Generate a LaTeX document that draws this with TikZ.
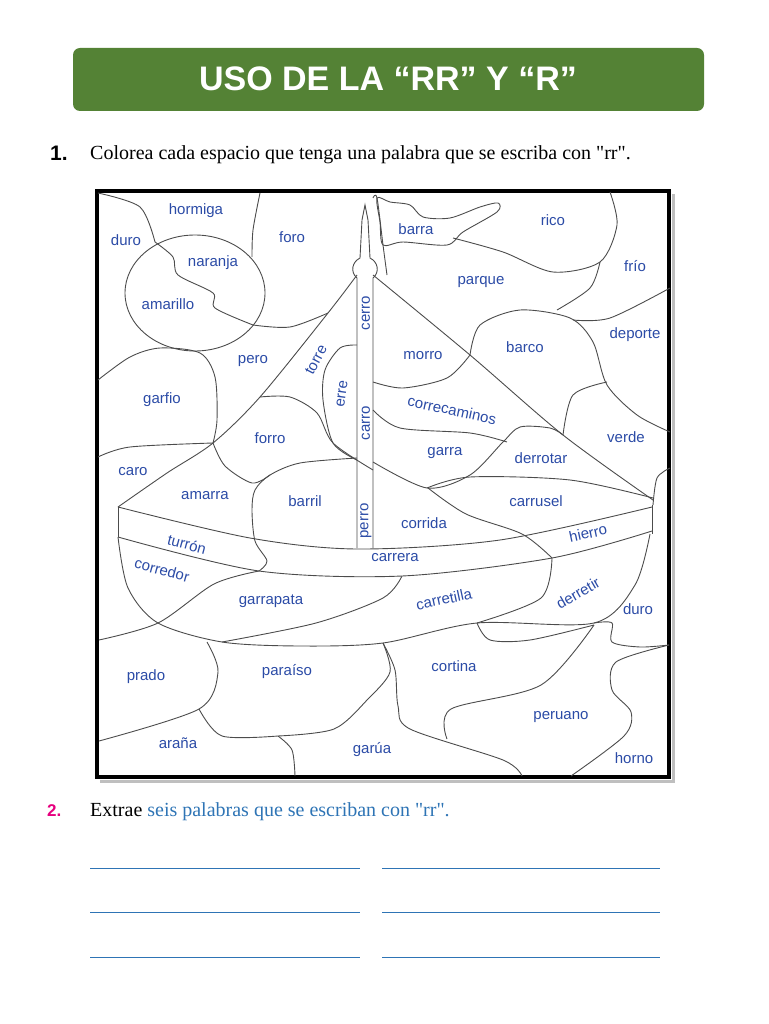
\documentclass[tikz,border=0pt]{standalone}
\usepackage{fontspec}
\setmainfont{Liberation Serif}[Ligatures=TeXOff]
\setsansfont{Liberation Sans}
\definecolor{tgreen}{HTML}{548235}
\definecolor{wblue}{HTML}{2B4BA6}
\definecolor{lblue}{HTML}{2E74B5}
\definecolor{mag}{HTML}{E6007E}
\begin{document}
\begin{tikzpicture}[x=1pt,y=-1pt,
  ln/.style={line width=0.9pt,draw=black!70},
  w/.style={text=wblue,font=\sffamily\fontsize{15}{15}\selectfont,inner sep=0pt}]
\useasboundingbox (0,0) rectangle (768,1024);
% title
\node[fill=tgreen,rounded corners=7pt,minimum width=631pt,minimum height=63pt,inner sep=0pt] (title) at (388.5,79.5) {};
\node[text=white,font=\sffamily\bfseries\fontsize{34}{34}\selectfont] (tt) at (388,79) {USO DE LA “RR” Y “R”};
\node[anchor=base west,font=\sffamily\bfseries\fontsize{21}{21}\selectfont,inner sep=0pt] (n1) at (50,161) {1.};
\node[anchor=base west,font=\fontsize{20}{20}\selectfont,inner sep=0pt] (q1) at (90,160) {Colorea cada espacio que tenga una palabra que se escriba con "rr".};
\node[anchor=base west,font=\sffamily\bfseries\fontsize{17}{17}\selectfont,text=mag,inner sep=0pt] (n2) at (47,816) {2.};
\node[anchor=base west,font=\fontsize{20}{20}\selectfont,inner sep=0pt] (q2) at (90,816) {Extrae \textcolor{lblue}{seis palabras que se escriban con "rr".}};
\foreach \y in {868,912,957}{
  \draw[lblue,line width=0.8pt] (90,\y) -- (360,\y);
  \draw[lblue,line width=0.8pt] (382,\y) -- (660,\y);}
% frame
\draw[black!25,line width=3pt] (100,781) -- (673,781) -- (673,194);
\draw[black,line width=4pt] (97,191) rectangle (669,777);
% mast
\draw[ln] (357,548) -- (357,278) .. controls (350,272) and (352,262) .. (360,258) -- (362,220) -- (365,205) -- (368,220) -- (370,258) .. controls (378,262) and (380,272) .. (373,278) -- (373,548);
% sails
\draw[ln] plot[smooth] coordinates {(357,275) (328,313) (260,397) (213,443) (167,473) (118,507)};
\draw[ln] plot[smooth] coordinates {(373,275) (470,355) (563,435) (653,500)};
% hull
\draw[ln] plot[smooth] coordinates {(118,507) (250,538) (357,549) (500,540) (652,507)};
\draw[ln] plot[smooth] coordinates {(118,537) (259,571) (402,576) (552,558) (652,531)};
\draw[ln] (118,507) -- (118,537);
\draw[ln] (652,505) -- (652,534);
\draw[ln] plot[smooth] coordinates {(118,537) (128,588) (158,623) (222,642) (300,646) (383,643) (477,623) (594,623) (635,585) (650,534)};
\draw[ln] plot[smooth] coordinates {(653,505) (657,478) (670,468)};
% top left
\draw[ln] plot[smooth] coordinates {(98,193) (140,207) (155,242)};
\draw[ln] (195,293) ellipse [x radius=70,y radius=58];
\draw[ln] plot[smooth] coordinates {(155,242) (173,257) (178,275) (213,293) (215,308) (253,325)};
\draw[ln] plot[smooth] coordinates {(253,325) (290,327) (328,313)};
\draw[ln] plot[smooth] coordinates {(260,193) (253,230) (252,257)};
\draw[ln] plot[smooth] coordinates {(98,380) (130,357) (160,348) (200,353) (215,377) (217,420) (213,443)};
\draw[ln] plot[smooth] coordinates {(98,457) (130,447) (213,443)};
\draw[ln] plot[smooth] coordinates {(260,397) (290,397) (317,413) (333,443) (373,470)};
\draw[ln] plot[smooth] coordinates {(357,345) (340,348) (325,370) (323,400) (333,443) (357,460)};
\draw[ln] plot[smooth] coordinates {(213,443) (225,466) (252,483) (270,475)};
% barril blob
\draw[ln] plot[smooth] coordinates {(357,458) (300,463) (270,475) (255,490) (252,510) (255,541) (267,561) (259,571)};
% garrapata top
\draw[ln] plot[smooth] coordinates {(99,640) (158,623) (214,584) (259,571)};
% right top
\draw[ln] plot[smooth] coordinates {(373,198) (377,198) (383,245) (387,275)};
\draw[ln] plot[smooth cycle] coordinates {(383,245) (403,242) (447,245) (463,232) (497,212) (498,203) (480,207) (450,218) (423,217) (410,205) (390,202) (377,198) (380,222)};
\draw[ln] plot[smooth] coordinates {(453,238) (503,252) (553,272) (600,262) (617,225) (610,192)};
\draw[ln] plot[smooth] coordinates {(600,262) (590,288) (557,310)};
\draw[ln] plot[smooth] coordinates {(470,355) (480,325) (520,310) (570,318) (593,342) (607,385) (637,415) (670,432)};
\draw[ln] plot[smooth] coordinates {(573,320) (610,318) (670,288)};
\draw[ln] plot[smooth] coordinates {(373,382) (403,388) (447,378) (470,355)};
\draw[ln] plot[smooth] coordinates {(563,435) (573,395) (607,382)};
\draw[ln] plot[smooth] coordinates {(373,410) (400,428) (470,433) (507,442)};
\draw[ln] plot[smooth] coordinates {(373,462) (427,488) (470,475) (503,442) (520,427) (550,428) (563,435)};
\draw[ln] plot[smooth] coordinates {(427,488) (470,477) (570,480) (653,498)};
\draw[ln] plot[smooth] coordinates {(428,488) (466,514) (522,534) (552,558)};
% lower part
\draw[ln] plot[smooth] coordinates {(552,558) (541,598) (477,623)};
\draw[ln] plot[smooth] coordinates {(402,576) (383,598) (316,623) (222,642)};
\draw[ln] plot[smooth] coordinates {(383,643) (390,672) (368,699) (334,729) (278,736)};
\draw[ln] plot[smooth] coordinates {(207,642) (218,672) (199,709) (99,741)};
\draw[ln] plot[smooth] coordinates {(199,709) (222,736) (278,736)};
\draw[ln] plot[smooth] coordinates {(278,736) (292,750) (295,776)};
\draw[ln] plot[smooth] coordinates {(383,643) (395,670) (398,706) (410,729) (503,760) (522,776)};
\draw[ln] plot[smooth] coordinates {(447,739) (451,709) (541,685) (594,625)};
\draw[ln] plot[smooth] coordinates {(594,623) (612,623) (612,642) (640,647) (669,645)};
\draw[ln] plot[smooth] coordinates {(669,645) (616,662) (612,690) (631,712) (624,736) (571,776)};
\draw[ln] plot[smooth] coordinates {(477,623) (490,640) (530,640) (594,625)};
% words
\node[w] (a1) at (196,211) {hormiga};
\node[w] (a2) at (126,240) {duro};
\node[w] (a3) at (292,237) {foro};
\node[w] (a4) at (213,263) {naranja};
\node[w] (a5) at (168,304) {amarillo};
\node[w] (a6) at (253,361) {pero};
\node[w,rotate=62] (a7) at (316,360) {torre};
\node[w,rotate=82] (a8) at (342,394) {erre};
\node[w] (a9) at (162,400) {garfio};
\node[w] (a10) at (270,438) {forro};
\node[w] (a11) at (133,472) {caro};
\node[w] (a12) at (205,496) {amarra};
\node[w] (a13) at (305,501) {barril};
\node[w,rotate=90] (a14) at (366,521) {perro};
\node[w,rotate=90] (a15) at (366,313) {cerro};
\node[w,rotate=90] (a16) at (366,423) {carro};
\node[w] (a17) at (423,356) {morro};
\node[w] (a18) at (525,347) {barco};
\node[w,rotate=-12] (a19) at (452,410) {correcaminos};
\node[w] (a20) at (445,453) {garra};
\node[w] (a21) at (541,458) {derrotar};
\node[w] (a22) at (536,501) {carrusel};
\node[w] (a23) at (424,523) {corrida};
\node[w] (a24) at (626,437) {verde};
\node[w] (a25) at (635,335) {deporte};
\node[w] (a26) at (635,266) {frío};
\node[w] (a27) at (481,282) {parque};
\node[w] (a28) at (553,220) {rico};
\node[w] (a29) at (416,229) {barra};
\node[w,rotate=-15] (a30) at (187,544) {turrón};
\node[w,rotate=-15] (a31) at (162,570) {corredor};
\node[w] (a32) at (395,558) {carrera};
\node[w,rotate=12] (a33) at (588,533) {hierro};
\node[w] (a34) at (271,601) {garrapata};
\node[w,rotate=12] (a35) at (444,599) {carretilla};
\node[w,rotate=30] (a36) at (578,593) {derretir};
\node[w] (a37) at (638,609) {duro};
\node[w] (a38) at (146,677) {prado};
\node[w] (a39) at (287,672) {paraíso};
\node[w] (a40) at (454,666) {cortina};
\node[w] (a41) at (561,717) {peruano};
\node[w] (a42) at (178,743) {araña};
\node[w] (a43) at (372,750) {garúa};
\node[w] (a44) at (634,758) {horno};
\end{tikzpicture}
\end{document}
